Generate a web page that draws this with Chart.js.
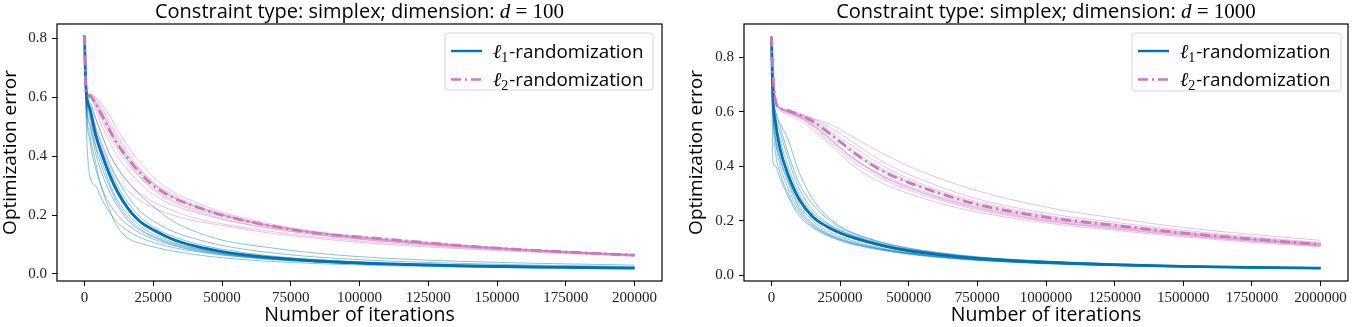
<!DOCTYPE html>
<html lang="en">
<head>
<meta charset="UTF-8">
<title>Optimization error vs iterations</title>
<script src="https://cdn.jsdelivr.net/npm/chart.js"></script>
<style>
  body { margin: 0; background: #fff; }
  #wrap { position: relative; width: 1353px; height: 327px; }
  canvas { position: absolute; top: 0; }
  #left { left: 0; }
  #right { left: 676px; }
</style>
</head>
<body>
<div id="wrap">
  <canvas id="left" width="676" height="327"></canvas>
  <canvas id="right" width="677" height="327"></canvas>
</div>
<script>
// ---- data ----
const Y_TICKS = [0, 0.2, 0.4, 0.6, 0.8];
const LEFT_X_TICKS = [0, 25000, 50000, 75000, 100000, 125000, 150000, 175000, 200000];
const RIGHT_X_TICKS = [0, 250000, 500000, 750000, 1000000, 1250000, 1500000, 1750000, 2000000];
const SERIES_NAMES = ['ℓ1-randomization', 'ℓ2-randomization'];

// d = 100
const LEFT_X = [0, 500, 2000, 4000, 6000, 9000, 12000, 16000, 20000, 25000, 32000, 40000, 50000, 65000, 85000, 110000, 140000, 170000, 200000];
const LEFT_L1_MEAN = [0.81, 0.64, 0.56, 0.475, 0.415, 0.34, 0.28, 0.22, 0.18, 0.15, 0.118, 0.095, 0.076, 0.058, 0.044, 0.034, 0.027, 0.023, 0.02];
const LEFT_L2_MEAN = [0.81, 0.62, 0.605, 0.58, 0.545, 0.49, 0.44, 0.39, 0.345, 0.3, 0.26, 0.23, 0.2, 0.168, 0.138, 0.118, 0.094, 0.077, 0.064];
const LEFT_L1_RUNS = [
  [0.81, 0.55, 0.33, 0.3, 0.26, 0.21, 0.175, 0.145, 0.125, 0.107, 0.09, 0.077, 0.064, 0.051, 0.04, 0.032, 0.026, 0.022, 0.019],
  [0.81, 0.6, 0.5, 0.41, 0.35, 0.28, 0.23, 0.18, 0.15, 0.125, 0.1, 0.083, 0.068, 0.053, 0.041, 0.032, 0.026, 0.022, 0.019],
  [0.81, 0.62, 0.56, 0.5, 0.45, 0.38, 0.32, 0.26, 0.215, 0.18, 0.145, 0.12, 0.097, 0.075, 0.057, 0.044, 0.035, 0.029, 0.025],
  [0.81, 0.61, 0.53, 0.44, 0.39, 0.31, 0.25, 0.2, 0.165, 0.135, 0.108, 0.088, 0.072, 0.055, 0.042, 0.033, 0.027, 0.023, 0.02],
  [0.81, 0.62, 0.58, 0.53, 0.48, 0.41, 0.36, 0.31, 0.27, 0.23, 0.18, 0.145, 0.115, 0.092, 0.07, 0.053, 0.042, 0.035, 0.03],
  [0.81, 0.59, 0.45, 0.36, 0.3, 0.24, 0.2, 0.165, 0.14, 0.118, 0.097, 0.08, 0.066, 0.052, 0.04, 0.031, 0.025, 0.021, 0.018],
  [0.81, 0.62, 0.55, 0.48, 0.43, 0.36, 0.3, 0.24, 0.195, 0.16, 0.128, 0.104, 0.084, 0.064, 0.048, 0.037, 0.03, 0.025, 0.021],
  [0.81, 0.6, 0.47, 0.38, 0.3, 0.22, 0.16, 0.12, 0.105, 0.092, 0.078, 0.066, 0.055, 0.044, 0.035, 0.028, 0.023, 0.019, 0.017],
  [0.81, 0.61, 0.51, 0.43, 0.37, 0.3, 0.24, 0.19, 0.155, 0.128, 0.104, 0.086, 0.07, 0.054, 0.041, 0.032, 0.026, 0.022, 0.019],
  [0.81, 0.62, 0.54, 0.46, 0.41, 0.33, 0.27, 0.215, 0.175, 0.145, 0.115, 0.093, 0.075, 0.057, 0.043, 0.034, 0.027, 0.023, 0.02]
];
const LEFT_L2_RUNS = [
  [0.81, 0.62, 0.61, 0.6, 0.58, 0.54, 0.49, 0.43, 0.38, 0.33, 0.28, 0.245, 0.21, 0.175, 0.143, 0.12, 0.096, 0.079, 0.066],
  [0.81, 0.62, 0.6, 0.56, 0.51, 0.45, 0.4, 0.35, 0.31, 0.27, 0.235, 0.21, 0.185, 0.158, 0.132, 0.11, 0.09, 0.075, 0.063],
  [0.81, 0.62, 0.6, 0.57, 0.53, 0.47, 0.42, 0.37, 0.33, 0.29, 0.25, 0.22, 0.195, 0.165, 0.137, 0.113, 0.092, 0.076, 0.064],
  [0.81, 0.62, 0.61, 0.59, 0.56, 0.51, 0.46, 0.4, 0.355, 0.31, 0.27, 0.235, 0.205, 0.17, 0.14, 0.115, 0.094, 0.078, 0.065],
  [0.81, 0.61, 0.58, 0.53, 0.48, 0.41, 0.36, 0.31, 0.275, 0.245, 0.215, 0.19, 0.17, 0.148, 0.125, 0.105, 0.087, 0.073, 0.061],
  [0.81, 0.62, 0.61, 0.6, 0.57, 0.52, 0.47, 0.41, 0.36, 0.31, 0.265, 0.23, 0.2, 0.167, 0.138, 0.114, 0.093, 0.077, 0.064],
  [0.81, 0.62, 0.6, 0.58, 0.55, 0.5, 0.44, 0.38, 0.33, 0.285, 0.245, 0.215, 0.188, 0.16, 0.133, 0.11, 0.09, 0.075, 0.062],
  [0.81, 0.61, 0.57, 0.5, 0.44, 0.37, 0.32, 0.28, 0.25, 0.225, 0.2, 0.18, 0.165, 0.142, 0.12, 0.1, 0.084, 0.071, 0.06],
  [0.81, 0.62, 0.6, 0.575, 0.54, 0.485, 0.435, 0.385, 0.34, 0.3, 0.26, 0.228, 0.2, 0.168, 0.139, 0.116, 0.094, 0.078, 0.065],
  [0.81, 0.62, 0.605, 0.585, 0.55, 0.5, 0.45, 0.395, 0.35, 0.305, 0.262, 0.23, 0.201, 0.169, 0.14, 0.117, 0.095, 0.078, 0.065]
];

// d = 1000
const RIGHT_X = [0, 5000, 15000, 30000, 60000, 100000, 150000, 200000, 250000, 300000, 400000, 500000, 600000, 750000, 1000000, 1250000, 1500000, 1750000, 2000000];
const RIGHT_L1_MEAN = [0.875, 0.66, 0.56, 0.47, 0.37, 0.28, 0.215, 0.18, 0.155, 0.137, 0.11, 0.09, 0.077, 0.062, 0.048, 0.039, 0.033, 0.029, 0.026];
const RIGHT_L2_MEAN = [0.875, 0.75, 0.64, 0.615, 0.605, 0.59, 0.565, 0.53, 0.49, 0.45, 0.385, 0.34, 0.305, 0.26, 0.213, 0.183, 0.155, 0.133, 0.113];
const RIGHT_L1_RUNS = [
  [0.875, 0.6, 0.45, 0.38, 0.3, 0.23, 0.18, 0.15, 0.13, 0.115, 0.095, 0.079, 0.068, 0.056, 0.043, 0.035, 0.03, 0.027, 0.024],
  [0.875, 0.67, 0.6, 0.55, 0.45, 0.34, 0.26, 0.21, 0.175, 0.152, 0.12, 0.098, 0.083, 0.066, 0.05, 0.04, 0.034, 0.03, 0.027],
  [0.875, 0.64, 0.52, 0.44, 0.35, 0.26, 0.2, 0.165, 0.142, 0.125, 0.1, 0.083, 0.071, 0.058, 0.045, 0.037, 0.032, 0.028, 0.025],
  [0.875, 0.66, 0.57, 0.5, 0.4, 0.3, 0.23, 0.19, 0.163, 0.143, 0.114, 0.094, 0.08, 0.064, 0.049, 0.04, 0.034, 0.03, 0.027],
  [0.875, 0.42, 0.4, 0.36, 0.29, 0.22, 0.175, 0.147, 0.127, 0.112, 0.092, 0.077, 0.066, 0.054, 0.042, 0.035, 0.03, 0.026, 0.024],
  [0.875, 0.68, 0.6, 0.56, 0.5, 0.38, 0.28, 0.22, 0.18, 0.155, 0.122, 0.1, 0.085, 0.068, 0.052, 0.042, 0.035, 0.031, 0.028],
  [0.875, 0.63, 0.5, 0.43, 0.34, 0.25, 0.19, 0.157, 0.136, 0.12, 0.097, 0.081, 0.07, 0.057, 0.044, 0.036, 0.031, 0.027, 0.025],
  [0.875, 0.65, 0.55, 0.47, 0.38, 0.29, 0.22, 0.18, 0.153, 0.134, 0.107, 0.088, 0.075, 0.06, 0.046, 0.038, 0.032, 0.028, 0.026],
  [0.875, 0.67, 0.58, 0.53, 0.43, 0.32, 0.24, 0.195, 0.166, 0.146, 0.116, 0.095, 0.081, 0.065, 0.049, 0.04, 0.034, 0.03, 0.027],
  [0.875, 0.62, 0.49, 0.41, 0.32, 0.24, 0.185, 0.153, 0.132, 0.117, 0.095, 0.08, 0.069, 0.056, 0.044, 0.036, 0.031, 0.027, 0.025]
];
const RIGHT_L2_RUNS = [
  [0.875, 0.75, 0.64, 0.615, 0.6, 0.59, 0.575, 0.56, 0.535, 0.505, 0.45, 0.4, 0.36, 0.31, 0.25, 0.21, 0.175, 0.15, 0.128],
  [0.875, 0.75, 0.64, 0.615, 0.6, 0.585, 0.555, 0.515, 0.47, 0.43, 0.365, 0.32, 0.285, 0.245, 0.2, 0.172, 0.147, 0.126, 0.108],
  [0.875, 0.75, 0.64, 0.615, 0.6, 0.58, 0.545, 0.5, 0.455, 0.415, 0.355, 0.312, 0.28, 0.24, 0.198, 0.17, 0.145, 0.125, 0.107],
  [0.875, 0.75, 0.64, 0.615, 0.605, 0.59, 0.57, 0.54, 0.505, 0.47, 0.405, 0.355, 0.315, 0.27, 0.22, 0.188, 0.16, 0.137, 0.117],
  [0.875, 0.74, 0.63, 0.605, 0.59, 0.57, 0.535, 0.49, 0.445, 0.4, 0.34, 0.3, 0.268, 0.232, 0.192, 0.165, 0.141, 0.121, 0.104],
  [0.875, 0.75, 0.64, 0.615, 0.605, 0.595, 0.575, 0.55, 0.52, 0.485, 0.42, 0.37, 0.33, 0.28, 0.228, 0.194, 0.165, 0.141, 0.12],
  [0.875, 0.75, 0.64, 0.61, 0.595, 0.58, 0.55, 0.51, 0.465, 0.425, 0.365, 0.322, 0.288, 0.248, 0.203, 0.175, 0.15, 0.129, 0.111],
  [0.875, 0.75, 0.64, 0.615, 0.6, 0.585, 0.56, 0.525, 0.485, 0.445, 0.385, 0.34, 0.302, 0.258, 0.21, 0.18, 0.154, 0.132, 0.113],
  [0.875, 0.75, 0.64, 0.615, 0.6, 0.588, 0.565, 0.532, 0.495, 0.457, 0.393, 0.346, 0.308, 0.263, 0.215, 0.184, 0.157, 0.134, 0.115],
  [0.875, 0.75, 0.64, 0.612, 0.598, 0.582, 0.552, 0.512, 0.468, 0.428, 0.37, 0.327, 0.292, 0.252, 0.207, 0.178, 0.152, 0.131, 0.112]
];

// ---- styling ----
const BLUE = '#0173b2';
const PINK = '#cc78bc';
const BLUE_THIN = 'rgba(1,115,178,0.45)';
const PINK_THIN = 'rgba(204,120,188,0.45)';
const DASHDOT = [10, 4, 2, 4];
const SANS = '"Open Sans", Lato, sans-serif';
const SERIF = '"Liberation Serif", "DejaVu Serif", serif';

function pts(xs, ys) {
  return xs.map((x, i) => ({ x: x, y: ys[i] }));
}

function buildDatasets(xs, l1Mean, l2Mean, l1Runs, l2Runs) {
  const sets = [];
  l1Runs.forEach(r => sets.push({ data: pts(xs, r), borderColor: BLUE_THIN, borderWidth: 1, order: 4 }));
  l2Runs.forEach(r => sets.push({ data: pts(xs, r), borderColor: PINK_THIN, borderWidth: 1, order: 3 }));
  sets.push({ data: pts(xs, l1Mean), borderColor: BLUE, borderWidth: 2.8, order: 2 });
  sets.push({ data: pts(xs, l2Mean), borderColor: PINK, borderWidth: 2.8, borderDash: DASHDOT, order: 1 });
  sets.forEach(s => {
    s.pointRadius = 0;
    s.fill = false;
    s.cubicInterpolationMode = 'monotone';
  });
  return sets;
}

// title with a math part: "Constraint type: simplex; dimension: d = N"
const titlePlugin = {
  id: 'mathTitle',
  afterDraw(chart, args, opts) {
    const ctx = chart.ctx;
    const parts = [
      { t: 'Constraint type: simplex; dimension: ', f: '20px ' + SANS },
      { t: 'd', f: 'italic 21px ' + SERIF },
      { t: ' = ' + opts.dim, f: '21px ' + SERIF }
    ];
    ctx.save();
    let total = 0;
    parts.forEach(p => { ctx.font = p.f; p.w = ctx.measureText(p.t).width; total += p.w; });
    let x = (chart.chartArea.left + chart.chartArea.right) / 2 - total / 2;
    ctx.fillStyle = '#000';
    ctx.textBaseline = 'alphabetic';
    parts.forEach(p => { ctx.font = p.f; ctx.fillText(p.t, x, 18); x += p.w; });
    ctx.restore();
  }
};

// full frame round the plot area
const framePlugin = {
  id: 'frame',
  afterDatasetsDraw(chart) {
    const a = chart.chartArea, ctx = chart.ctx;
    ctx.save();
    ctx.strokeStyle = '#000';
    ctx.lineWidth = 1.2;
    ctx.strokeRect(a.left, a.top, a.right - a.left, a.bottom - a.top);
    ctx.restore();
  }
};

// legend box like matplotlib's, with l_1 / l_2 subscripts
const legendPlugin = {
  id: 'mathLegend',
  afterDraw(chart, args, opts) {
    const ctx = chart.ctx;
    const bx = opts.x, by = opts.y, bw = opts.w, bh = opts.h;
    ctx.save();
    ctx.beginPath();
    ctx.roundRect(bx, by, bw, bh, 3);
    ctx.fillStyle = 'rgba(255,255,255,0.85)';
    ctx.fill();
    ctx.strokeStyle = '#d6d6d6';
    ctx.lineWidth = 1;
    ctx.stroke();
    const rows = [
      { y: by + 18, color: BLUE, dash: [], sub: '1', rest: SERIES_NAMES[0].slice(2) },
      { y: by + 46.5, color: PINK, dash: DASHDOT, sub: '2', rest: SERIES_NAMES[1].slice(2) }
    ];
    rows.forEach(r => {
      ctx.beginPath();
      ctx.setLineDash(r.dash);
      ctx.strokeStyle = r.color;
      ctx.lineWidth = 2.4;
      ctx.moveTo(bx + 6, r.y);
      ctx.lineTo(bx + 37, r.y);
      ctx.stroke();
      ctx.setLineDash([]);
      ctx.fillStyle = '#000';
      ctx.textBaseline = 'alphabetic';
      let x = bx + 48;
      const base = r.y + 6.5;
      ctx.font = 'italic 20px ' + SERIF;
      ctx.fillText('ℓ', x, base);
      x += ctx.measureText('ℓ').width;
      ctx.font = '14px ' + SERIF;
      ctx.fillText(r.sub, x, base + 4);
      x += ctx.measureText(r.sub).width + 1;
      ctx.font = '18.8px ' + SANS;
      ctx.fillText(r.rest, x, base);
    });
    ctx.restore();
  }
};

function makeChart(id, opts) {
  return new Chart(document.getElementById(id), {
    type: 'line',
    data: { datasets: buildDatasets(opts.xs, opts.l1Mean, opts.l2Mean, opts.l1Runs, opts.l2Runs) },
    plugins: [framePlugin, titlePlugin, legendPlugin],
    options: {
      responsive: false,
      animation: false,
      devicePixelRatio: 1,
      layout: { padding: { top: 24, right: opts.padRight, bottom: 0, left: 0 } },
      plugins: {
        legend: { display: false },
        tooltip: { enabled: false },
        mathTitle: { dim: opts.dim },
        mathLegend: opts.legend
      },
      scales: {
        x: {
          type: 'linear',
          min: opts.xMin,
          max: opts.xMax,
          afterBuildTicks: axis => { axis.ticks = opts.xTicks.map(v => ({ value: v })); },
          afterFit: axis => { axis.height = 46; },
          grid: { display: true, drawOnChartArea: false, drawTicks: true, tickLength: 5, color: '#000' },
          border: { display: false },
          ticks: {
            maxRotation: 0, autoSkip: false, padding: 3, color: '#222',
            font: { family: SERIF, size: 15 },
            callback: v => String(v)
          },
          title: { display: true, text: 'Number of iterations', color: '#000', font: { family: SANS, size: 19.5 }, padding: { top: 0, bottom: 0 } }
        },
        y: {
          type: 'linear',
          min: opts.yMin,
          max: opts.yMax,
          afterBuildTicks: axis => { axis.ticks = Y_TICKS.map(v => ({ value: v })); },
          afterFit: axis => { axis.width = opts.yWidth; },
          grid: { display: true, drawOnChartArea: false, drawTicks: true, tickLength: 5, color: '#000' },
          border: { display: false },
          ticks: {
            padding: 5, color: '#222',
            font: { family: SERIF, size: 15 },
            callback: v => v.toFixed(1)
          },
          title: { display: true, text: 'Optimization error', color: '#000', font: { family: SANS, size: 19 }, padding: { top: opts.yTitlePad, bottom: 0 } }
        }
      }
    }
  });
}

makeChart('left', {
  xs: LEFT_X, l1Mean: LEFT_L1_MEAN, l2Mean: LEFT_L2_MEAN, l1Runs: LEFT_L1_RUNS, l2Runs: LEFT_L2_RUNS,
  dim: '100', xTicks: LEFT_X_TICKS, xMin: -10000, xMax: 210000, yMin: -0.024, yMax: 0.849,
  yWidth: 57, padRight: 14, yTitlePad: -1,
  legend: { x: 445, y: 33, w: 208, h: 57 }
});

makeChart('right', {
  xs: RIGHT_X, l1Mean: RIGHT_L1_MEAN, l2Mean: RIGHT_L2_MEAN, l1Runs: RIGHT_L1_RUNS, l2Runs: RIGHT_L2_RUNS,
  dim: '1000', xTicks: RIGHT_X_TICKS, xMin: -100000, xMax: 2100000, yMin: -0.021, yMax: 0.922,
  yWidth: 68, padRight: 5, yTitlePad: 9,
  legend: { x: 456, y: 33, w: 209, h: 58 }
});
</script>
</body>
</html>
